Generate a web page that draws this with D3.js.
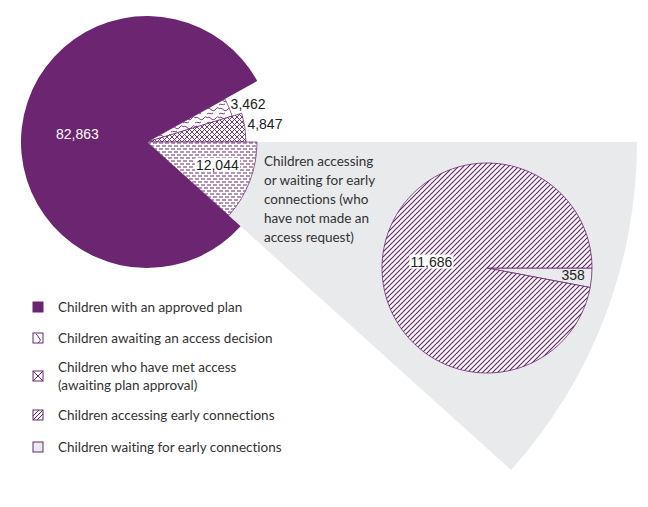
<!DOCTYPE html>
<html>
<head>
<meta charset="utf-8">
<script src="https://cdn.jsdelivr.net/npm/d3@7"></script>
<style>
  body { margin: 0; background: #fff; }
  svg { display: block; }
  text { font-family: "Lato", "Open Sans", sans-serif; font-variant-ligatures: none; }
  .num { font-family: "Liberation Sans", Arial, sans-serif; font-size: 14px; fill: #222; }
  .legend text, .callout text { font-size: 13.5px; fill: #333; }
</style>
</head>
<body>
<div id="chart"></div>
<script>
// Daten
const mainKeys = ["decision", "metAccess", "early", "approved"];
const mainValues = [3462, 4847, 12044, 82863];
const subKeys = ["waiting", "accessing"];
const subValues = [358, 11686];
const calloutLines = ["Children accessing", "or waiting for early", "connections (who", "have not made an", "access request)"];
const legendKeys = ["approved", "decision", "metAccess", "accessing", "waiting"];
const legendLabels = [
  ["Children with an approved plan"],
  ["Children awaiting an access decision"],
  ["Children who have met access", "(awaiting plan approval)"],
  ["Children accessing early connections"],
  ["Children waiting for early connections"]
];

const purple = "#6b2571";
const grey = "#e9eaec";
const W = 648, H = 507;

const svg = d3.select("#chart").append("svg").attr("width", W).attr("height", H);
const defs = svg.append("defs");

// Muster
function pattern(id, w, h, draw) {
  const p = defs.append("pattern").attr("id", id)
    .attr("patternUnits", "userSpaceOnUse").attr("width", w).attr("height", h);
  p.append("rect").attr("width", w).attr("height", h).attr("fill", "#fff");
  draw(p);
}
pattern("pWave", 12, 9, p => {
  p.append("path").attr("d", "M0,3 C3,0 5,7 8,4 S11,1 12,3 M0,8 C2,6 4,9 6,7")
    .attr("fill", "none").attr("stroke", purple).attr("stroke-width", 0.9);
});
pattern("pCross", 5, 5, p => {
  p.append("path").attr("d", "M0,0 L5,5 M5,0 L0,5")
    .attr("stroke", purple).attr("stroke-width", 0.9);
});
pattern("pDash", 6, 6, p => {
  p.append("path").attr("d", "M0,1 H4 M3,4 H6 M0,4 H1")
    .attr("stroke", purple).attr("stroke-width", 1.1);
});
pattern("pStripe", 5, 5, p => {
  p.append("path").attr("d", "M-1,1 L1,-1 M0,5 L5,0 M4,6 L6,4")
    .attr("stroke", purple).attr("stroke-width", 1.2);
});

const fills = {
  approved: purple, decision: "url(#pWave)", metAccess: "url(#pCross)",
  early: "url(#pDash)", accessing: "url(#pStripe)", waiting: grey
};
const outerR = { approved: 126, decision: 89, metAccess: 99, early: 110 };

// Hauptkreis
const c1 = [147, 142];
const pieMain = d3.pie().sort(null).value(d => d.v).startAngle(61.02 * Math.PI / 180)
  .endAngle(61.02 * Math.PI / 180 + 2 * Math.PI);
const mainArcs = pieMain(mainKeys.map((k, i) => ({ k, v: mainValues[i] })));
const earlyArc = mainArcs.find(a => a.data.k === "early");

// grauer Fächer
svg.append("path")
  .attr("transform", `translate(${c1})`)
  .attr("d", d3.arc().innerRadius(outerR.early).outerRadius(490)
    .startAngle(earlyArc.startAngle).endAngle(earlyArc.endAngle)())
  .attr("fill", grey);

const g1 = svg.append("g").attr("transform", `translate(${c1})`);
g1.selectAll("path").data(mainArcs).enter().append("path")
  .attr("d", d => d3.arc().innerRadius(0).outerRadius(outerR[d.data.k])(d))
  .attr("fill", d => fills[d.data.k])
  .attr("stroke", d => d.data.k === "approved" ? "none" : purple)
  .attr("stroke-width", 0.7);

const fmt = d3.format(",");
const polar = (r, a) => [r * Math.sin(a), -r * Math.cos(a)];
const mid = d => (d.startAngle + d.endAngle) / 2;

function label(g, pos, txt, anchor, fill, bg) {
  const t = g.append("text").attr("class", "num")
    .attr("x", pos[0]).attr("y", pos[1]).attr("dy", "0.35em")
    .attr("text-anchor", anchor).attr("fill", fill).text(txt);
  if (bg) {
    const b = t.node().getBBox();
    g.insert("rect", "text:last-of-type").attr("x", b.x - 1).attr("y", b.y + 1)
      .attr("width", b.width + 2).attr("height", b.height - 2).attr("fill", "#fff");
  }
  return t;
}

mainArcs.forEach(d => {
  const k = d.data.k;
  if (k === "approved") label(g1, polar(70, mid(d)), fmt(d.value), "middle", "#fff").style("fill", "#fff");
  else if (k === "early") label(g1, polar(74, mid(d) - 0.05), fmt(d.value), "middle", "#222", true);
  else label(g1, polar(outerR[k] + 3, mid(d) - 0.03), fmt(d.value), "start", "#222");
});

// zweiter Kreis
const c2 = [487, 268], r2 = 105;
const pieSub = d3.pie().sort(null).value(d => d.v).startAngle(Math.PI / 2).endAngle(Math.PI / 2 + 2 * Math.PI);
const subArcs = pieSub(subKeys.map((k, i) => ({ k, v: subValues[i] })));
const g2 = svg.append("g").attr("transform", `translate(${c2})`);
g2.selectAll("path").data(subArcs).enter().append("path")
  .attr("d", d3.arc().innerRadius(0).outerRadius(r2))
  .attr("fill", d => fills[d.data.k])
  .attr("stroke", purple).attr("stroke-width", 0.8);
subArcs.forEach(d => {
  if (d.data.k === "accessing") label(g2, polar(56, mid(d) + 0.02), fmt(d.value), "middle", "#222", true);
  else label(g2, polar(98, mid(d) - 0.02), fmt(d.value), "end", "#222");
});

// Beschriftung
const callout = svg.append("g").attr("class", "callout").attr("transform", "translate(264,161)");
callout.selectAll("text").data(calloutLines).enter().append("text")
  .attr("y", (d, i) => i * 19).attr("dy", "0.35em").text(d => d);

// Legende
const legendY = [307, 338, 376, 415, 447];
const lg = svg.append("g").attr("class", "legend");
legendKeys.forEach((k, i) => {
  const y = legendY[i];
  const row = lg.append("g").attr("transform", `translate(33,${y})`);
  row.append("rect").attr("x", 0).attr("y", -5).attr("width", 10).attr("height", 10)
    .attr("fill", k === "approved" ? purple : (k === "waiting" ? grey : "#fff"))
    .attr("stroke", purple).attr("stroke-width", 1);
  const icon = {
    decision: "M3,-4 C6,-2 5,0 7,1 C8,3 6,4 5,5",
    metAccess: "M0,-5 L10,5 M10,-5 L0,5",
    accessing: "M0,1 L6,-5 M0,5 L10,-5 M4,5 L10,-1"
  }[k];
  if (icon) row.append("path").attr("d", icon).attr("fill", "none")
    .attr("stroke", purple).attr("stroke-width", 1);
  const lines = legendLabels[i];
  row.selectAll("text").data(lines).enter().append("text")
    .attr("x", 25).attr("y", (d, j) => (j - (lines.length - 1) / 2) * 18)
    .attr("dy", "0.35em").text(d => d);
});
</script>
</body>
</html>
